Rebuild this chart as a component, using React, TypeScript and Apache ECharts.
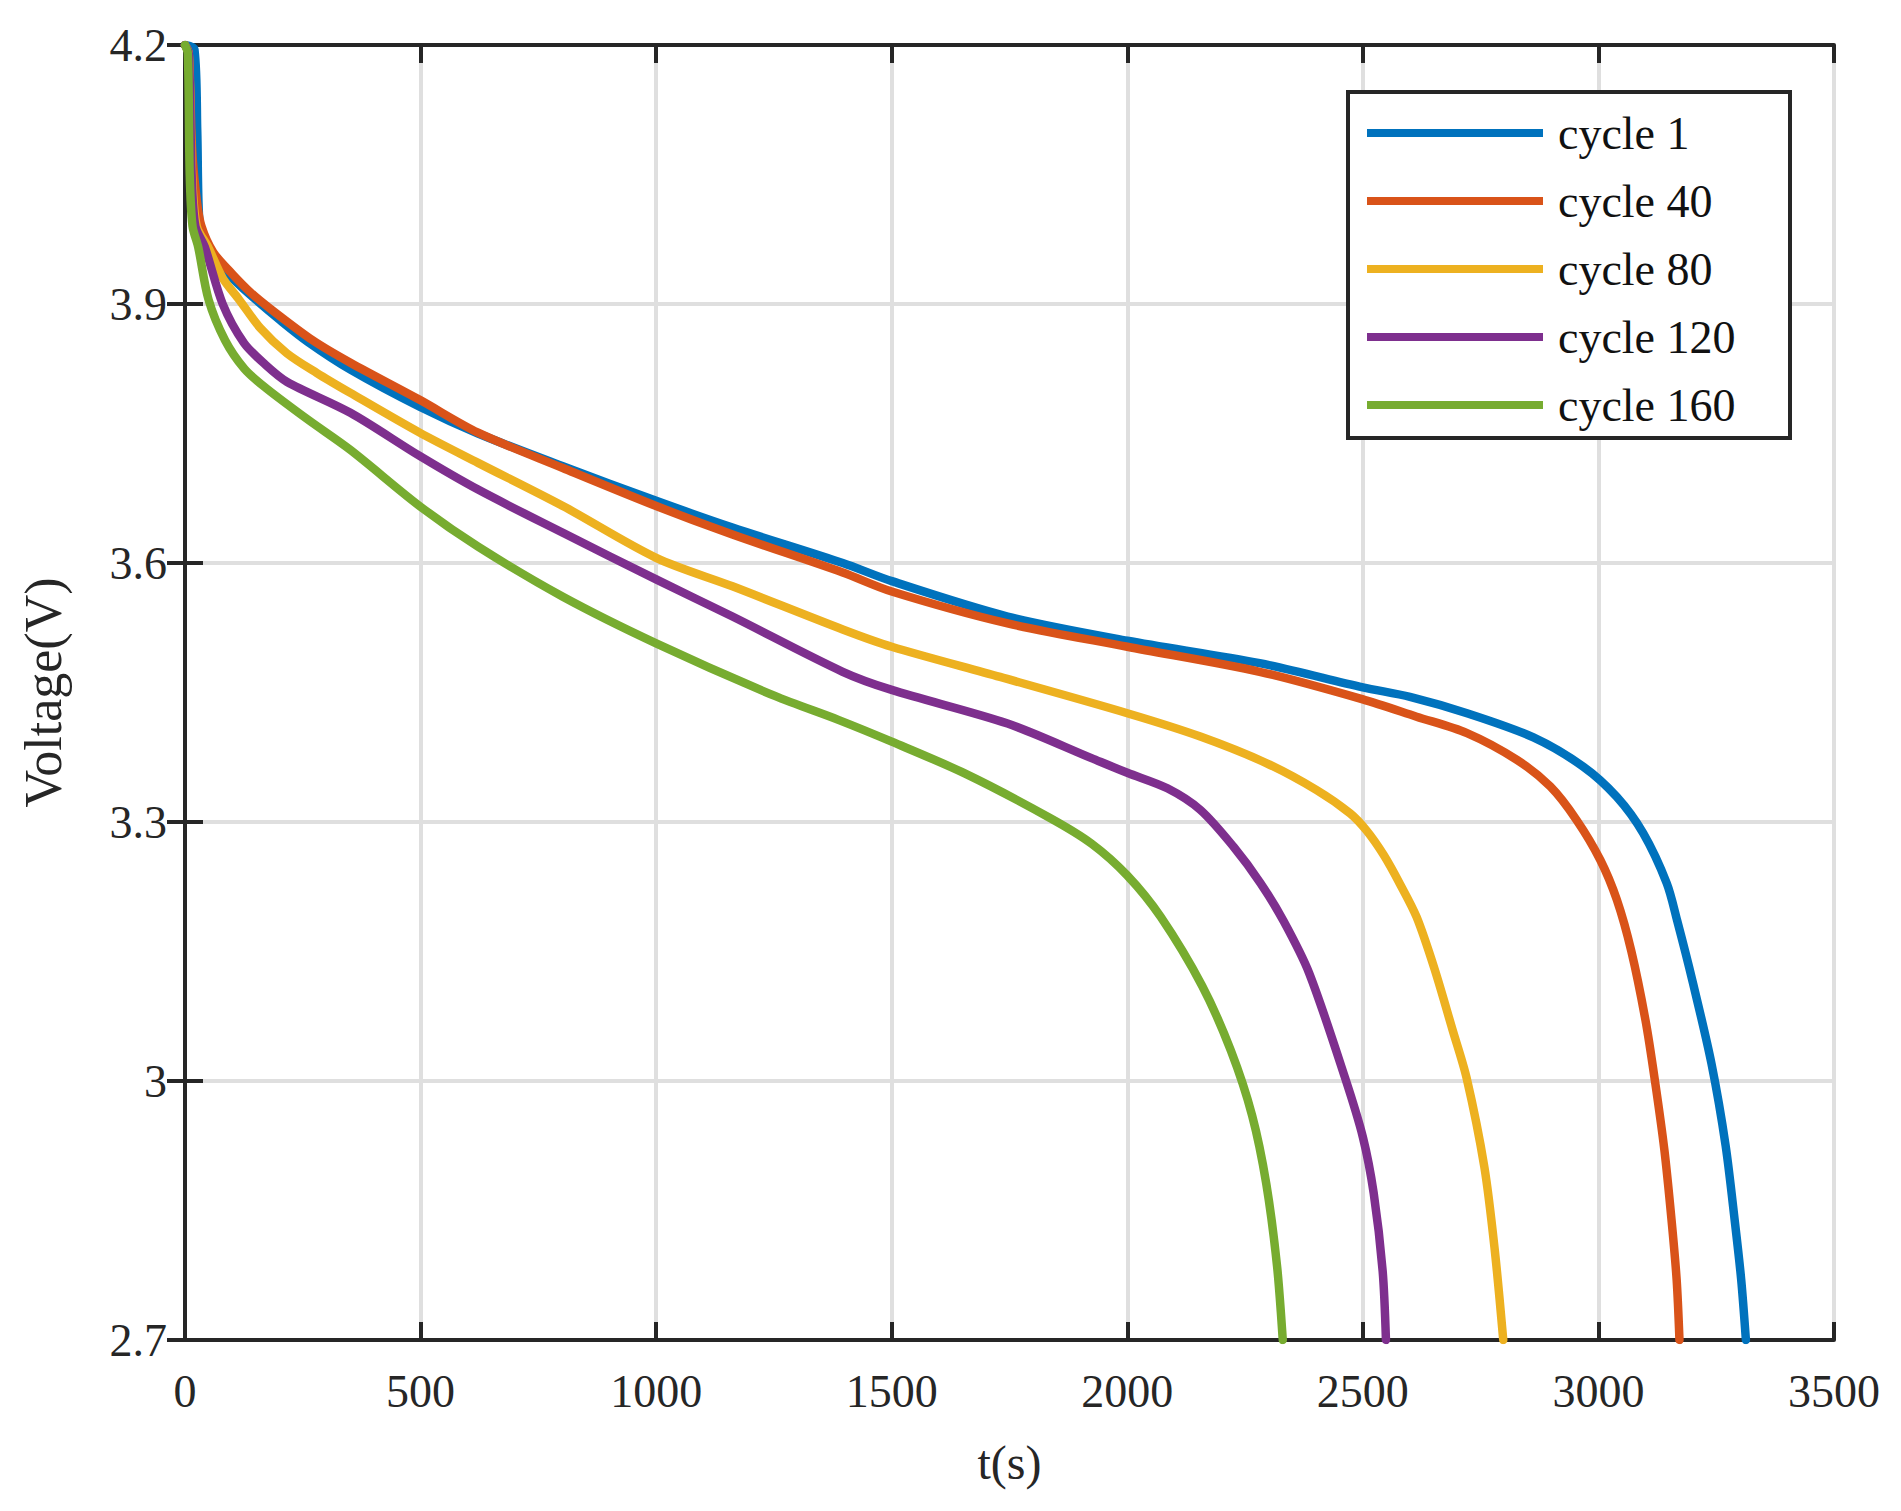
import React, { useEffect, useRef } from "react";
import * as echarts from "echarts";

const seriesNames = ["cycle 1", "cycle 40", "cycle 80", "cycle 120", "cycle 160"];
const seriesColors = ["#0072BD", "#D95319", "#EDB120", "#7E2F8E", "#77AC30"];
const xTicks = [0, 500, 1000, 1500, 2000, 2500, 3000, 3500];
const yTicks = [2.7, 3.0, 3.3, 3.6, 3.9, 4.2];

const cycle1: [number, number][] = [
  [0, 4.2], [20, 4.195], [26, 4.1], [30, 4.0], [40, 3.975], [60, 3.952], [100, 3.93],
  [150, 3.905], [200, 3.882], [261, 3.856], [351, 3.824], [498, 3.781], [622, 3.75],
  [802, 3.712], [1000, 3.672], [1162, 3.641], [1396, 3.6], [1500, 3.579], [1746, 3.538],
  [2000, 3.51], [2281, 3.484], [2500, 3.456], [2600, 3.445], [2721, 3.426], [2862, 3.398],
  [2968, 3.364], [3039, 3.329], [3095, 3.287], [3145, 3.229], [3167, 3.186], [3200, 3.115],
  [3240, 3.02], [3270, 2.925], [3290, 2.835], [3303, 2.77], [3313, 2.7],
];
const cycle40: [number, number][] = [
  [0, 4.2], [8, 4.19], [15, 4.08], [25, 4.02], [35, 3.99], [60, 3.96], [100, 3.935],
  [140, 3.913], [180, 3.895], [271, 3.858], [351, 3.832], [498, 3.789], [622, 3.751],
  [802, 3.71], [1000, 3.666], [1162, 3.633], [1396, 3.589], [1500, 3.567], [1746, 3.53],
  [2000, 3.503], [2281, 3.474], [2500, 3.442], [2614, 3.422], [2721, 3.403], [2827, 3.372],
  [2898, 3.341], [2954, 3.302], [3004, 3.256], [3039, 3.21], [3070, 3.15], [3100, 3.07],
  [3120, 3.0], [3140, 2.92], [3155, 2.84], [3166, 2.77], [3172, 2.7],
];
const cycle80: [number, number][] = [
  [0, 4.2], [8, 4.19], [15, 4.05], [25, 3.99], [49, 3.966], [80, 3.93], [115, 3.905],
  [160, 3.872], [216, 3.843], [280, 3.82], [351, 3.797], [498, 3.751], [622, 3.716],
  [802, 3.666], [1000, 3.606], [1162, 3.573], [1396, 3.523], [1500, 3.503], [1730, 3.468],
  [2000, 3.426], [2155, 3.399], [2296, 3.368], [2402, 3.337], [2473, 3.31], [2508, 3.29],
  [2544, 3.262], [2579, 3.228], [2614, 3.19], [2652, 3.13], [2690, 3.06], [2720, 3.004],
  [2758, 2.9], [2780, 2.804], [2798, 2.7],
];
const cycle120: [number, number][] = [
  [0, 4.2], [8, 4.19], [14, 4.05], [22, 3.99], [42, 3.966], [80, 3.9], [125, 3.855],
  [170, 3.83], [216, 3.81], [351, 3.774], [498, 3.724], [622, 3.685], [802, 3.635],
  [1000, 3.581], [1162, 3.538], [1396, 3.474], [1500, 3.453], [1746, 3.414], [1924, 3.374],
  [2000, 3.357], [2085, 3.339], [2155, 3.314], [2226, 3.271], [2283, 3.229], [2332, 3.185],
  [2386, 3.125], [2462, 3.004], [2500, 2.935], [2523, 2.87], [2542, 2.78], [2549, 2.7],
];
const cycle160: [number, number][] = [
  [0, 4.2], [6, 4.19], [10, 4.05], [16, 3.99], [28, 3.966], [50, 3.905], [85, 3.858],
  [126, 3.825], [171, 3.803], [261, 3.766], [351, 3.731], [498, 3.666], [622, 3.619],
  [802, 3.561], [1000, 3.507], [1252, 3.446], [1388, 3.418], [1500, 3.393], [1656, 3.356],
  [1835, 3.305], [1924, 3.275], [2000, 3.238], [2071, 3.19], [2159, 3.11], [2220, 3.035],
  [2265, 2.96], [2295, 2.881], [2318, 2.785], [2330, 2.7],
];
const allData = [cycle1, cycle40, cycle80, cycle120, cycle160];

const FONT = "'Liberation Serif', 'Times New Roman', serif";
const AXIS_COLOR = "#262626";

export default function App() {
  const ref = useRef<HTMLDivElement>(null);
  useEffect(() => {
    document.body.style.margin = "0";
    if (!ref.current) return;
    const chart = echarts.init(ref.current, undefined, { renderer: "svg" });
    const xMin = xTicks[0];
    const xMax = xTicks[xTicks.length - 1];
    const xInt = xTicks[1] - xTicks[0];
    const yMin = yTicks[0];
    const yMax = yTicks[yTicks.length - 1];
    const yInt = 0.3;
    const frameAxisLine = { show: true, lineStyle: { color: AXIS_COLOR, width: 4 } };
    const frameTick = { show: true, inside: true, length: 18, lineStyle: { color: AXIS_COLOR, width: 4 } };
    chart.setOption({
      animation: false,
      backgroundColor: "#ffffff",
      grid: { left: 185, top: 45, right: 67, bottom: 171, containLabel: false },
      xAxis: [
        {
          type: "value",
          min: xMin,
          max: xMax,
          interval: xInt,
          position: "bottom",
          name: "t(s)",
          nameLocation: "middle",
          nameGap: 98,
          nameTextStyle: { fontFamily: FONT, fontSize: 48, color: AXIS_COLOR },
          axisLine: frameAxisLine,
          axisTick: frameTick,
          axisLabel: {
            fontFamily: FONT,
            fontSize: 46,
            color: AXIS_COLOR,
            margin: 28,
            formatter: (v: number) => String(Math.round(v)),
          },
          splitLine: { show: true, lineStyle: { color: "#dfdfdf", width: 4 } },
        },
        {
          type: "value",
          min: xMin,
          max: xMax,
          interval: xInt,
          position: "top",
          axisLine: frameAxisLine,
          axisTick: frameTick,
          axisLabel: { show: false },
          splitLine: { show: false },
        },
      ],
      yAxis: [
        {
          type: "value",
          min: yMin,
          max: yMax,
          interval: yInt,
          position: "left",
          name: "Voltage(V)",
          nameLocation: "middle",
          nameGap: 116,
          nameRotate: 90,
          nameTextStyle: { fontFamily: FONT, fontSize: 52, color: AXIS_COLOR },
          axisLine: frameAxisLine,
          axisTick: frameTick,
          axisLabel: {
            fontFamily: FONT,
            fontSize: 46,
            color: AXIS_COLOR,
            margin: 18,
            formatter: (v: number) => String(parseFloat(v.toFixed(1))),
          },
          splitLine: { show: true, lineStyle: { color: "#dfdfdf", width: 4 } },
        },
        {
          type: "value",
          min: yMin,
          max: yMax,
          interval: yInt,
          position: "right",
          axisLine: frameAxisLine,
          axisTick: frameTick,
          axisLabel: { show: false },
          splitLine: { show: false },
        },
      ],
      legend: {
        orient: "vertical",
        left: 1367,
        top: 110,
        padding: 0,
        itemGap: 22,
        itemWidth: 176,
        itemHeight: 8,
        icon: "rect",
        z: 10,
        data: seriesNames,
        textStyle: {
          fontFamily: FONT,
          fontSize: 46,
          lineHeight: 44,
          color: "#111111",
          padding: [0, 0, 0, 10],
        },
      },
      graphic: {
        elements: [
          {
            type: "rect",
            z: 5,
            shape: { x: 1348, y: 92, width: 442, height: 346 },
            style: { fill: "#ffffff", stroke: AXIS_COLOR, lineWidth: 4 },
          },
        ],
      },
      series: allData.map((d, i) => ({
        type: "line",
        name: seriesNames[i],
        data: d,
        xAxisIndex: 0,
        yAxisIndex: 0,
        showSymbol: false,
        symbol: "none",
        smooth: 0.3,
        color: seriesColors[i],
        lineStyle: { width: 8.5, color: seriesColors[i], cap: "round", join: "round" },
        z: 2,
      })),
    });
    return () => chart.dispose();
  }, []);
  return <div ref={ref} style={{ width: 1901, height: 1511 }} />;
}
